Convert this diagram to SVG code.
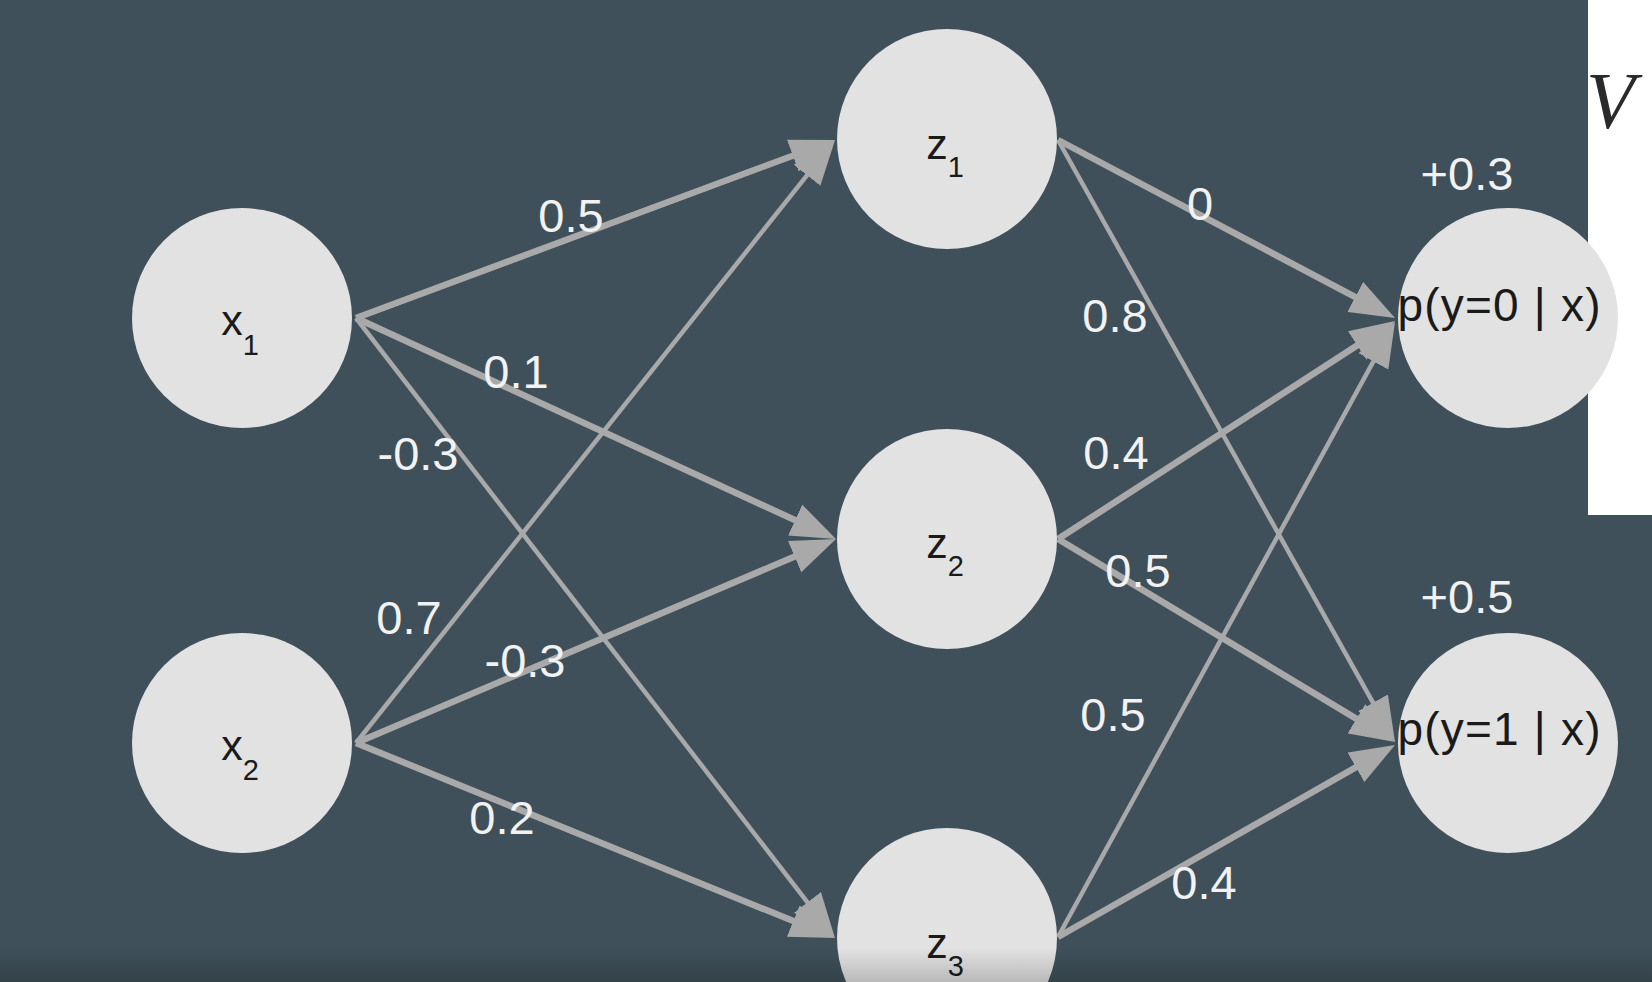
<svg xmlns="http://www.w3.org/2000/svg" width="1652" height="982" viewBox="0 0 1652 982">
  <style>
    .node { fill: #e2e2e2; }
    .nlabel { font-family: "Liberation Sans", Arial, sans-serif; font-size: 43px; fill: #1a1a1a; text-anchor: middle; }
    .plabel { font-family: "Liberation Sans", Arial, sans-serif; font-size: 46px; fill: #1a1a1a; text-anchor: middle; }
    .sub { font-size: 29px; }
    .elabel { font-family: "Liberation Sans", Arial, sans-serif; font-size: 47px; fill: #f2f2f2; text-anchor: middle; }
    .edge { stroke: #a9a9a9; fill: none; marker-end: url(#arrow); }
    .thick { stroke-width: 6.5; }
    .thin { stroke-width: 4.5; }
  </style>
  <defs>
    <marker id="arrow" viewBox="0 0 45 34" markerWidth="45" markerHeight="34" refX="20" refY="17" orient="auto" markerUnits="userSpaceOnUse">
      <path d="M0,0 L45,17 L0,34 z" fill="#a9a9a9"/>
    </marker>
    <linearGradient id="shade" x1="0" y1="0" x2="0" y2="1">
      <stop offset="0" stop-color="#000" stop-opacity="0"/>
      <stop offset="1" stop-color="#000" stop-opacity="0.18"/>
    </linearGradient>
  </defs>

  <rect x="0" y="0" width="1652" height="982" fill="#3f505a"/>
  <rect x="1588" y="0" width="64" height="515" fill="#ffffff"/>
  <text x="1586" y="128" font-family="'Liberation Serif', 'Times New Roman', serif" font-style="italic" font-size="80" fill="#2a2a2a">V</text>

  <g id="connectors">
    <line class="edge thick" x1="356" y1="318" x2="811.6" y2="148.7"/>
    <line class="edge thick" x1="356" y1="318" x2="813.3" y2="528.5"/>
    <line class="edge thin" x1="356" y1="318" x2="819.7" y2="918.2"/>
    <line class="edge thin" x1="356" y1="743" x2="819.5" y2="159.6"/>
    <line class="edge thick" x1="356" y1="743" x2="813" y2="548.8"/>
    <line class="edge thick" x1="356" y1="743" x2="811.8" y2="928.6"/>
    <line class="edge thick" x1="1058" y1="140" x2="1372.9" y2="306.3"/>
    <line class="edge thin" x1="1058" y1="140" x2="1382.8" y2="720.2"/>
    <line class="edge thick" x1="1058" y1="539" x2="1374" y2="334.6"/>
    <line class="edge thick" x1="1058" y1="539" x2="1373.6" y2="729.1"/>
    <line class="edge thin" x1="1058" y1="937" x2="1383" y2="343.9"/>
    <line class="edge thick" x1="1058" y1="937" x2="1373.3" y2="757.4"/>
  </g>

  <g id="edge-labels">
    <text class="elabel" x="571" y="232">0.5</text>
    <text class="elabel" x="516" y="388">0.1</text>
    <text class="elabel" x="418" y="470">-0.3</text>
    <text class="elabel" x="409" y="634">0.7</text>
    <text class="elabel" x="525" y="677">-0.3</text>
    <text class="elabel" x="502" y="834">0.2</text>
    <text class="elabel" x="1200" y="220">0</text>
    <text class="elabel" x="1115" y="332">0.8</text>
    <text class="elabel" x="1116" y="469">0.4</text>
    <text class="elabel" x="1138" y="587">0.5</text>
    <text class="elabel" x="1113" y="731">0.5</text>
    <text class="elabel" x="1204" y="899">0.4</text>
  </g>

  <g id="x1">
    <circle class="node" cx="242" cy="318" r="110"/>
    <text class="nlabel" x="240" y="335">x<tspan class="sub" dy="20">1</tspan></text>
  </g>
  <g id="x2">
    <circle class="node" cx="242" cy="743" r="110"/>
    <text class="nlabel" x="240" y="760">x<tspan class="sub" dy="20">2</tspan></text>
  </g>
  <g id="z1">
    <circle class="node" cx="947" cy="139" r="110"/>
    <text class="nlabel" x="945" y="159">z<tspan class="sub" dy="18">1</tspan></text>
  </g>
  <g id="z2">
    <circle class="node" cx="947" cy="539" r="110"/>
    <text class="nlabel" x="945" y="558">z<tspan class="sub" dy="18">2</tspan></text>
  </g>
  <g id="z3">
    <circle class="node" cx="947" cy="938" r="110"/>
    <text class="nlabel" x="945" y="958">z<tspan class="sub" dy="18">3</tspan></text>
  </g>
  <g id="p0">
    <text class="elabel" x="1467" y="190">+0.3</text>
    <circle class="node" cx="1508" cy="318" r="110"/>
    <text class="plabel" x="1499" y="321" textLength="203" lengthAdjust="spacing">p(y=0 | x)</text>
  </g>
  <g id="p1">
    <text class="elabel" x="1467" y="613">+0.5</text>
    <circle class="node" cx="1508" cy="743" r="110"/>
    <text class="plabel" x="1499" y="745" textLength="203" lengthAdjust="spacing">p(y=1 | x)</text>
  </g>

  <rect x="0" y="948" width="1652" height="34" fill="url(#shade)"/>
</svg>
